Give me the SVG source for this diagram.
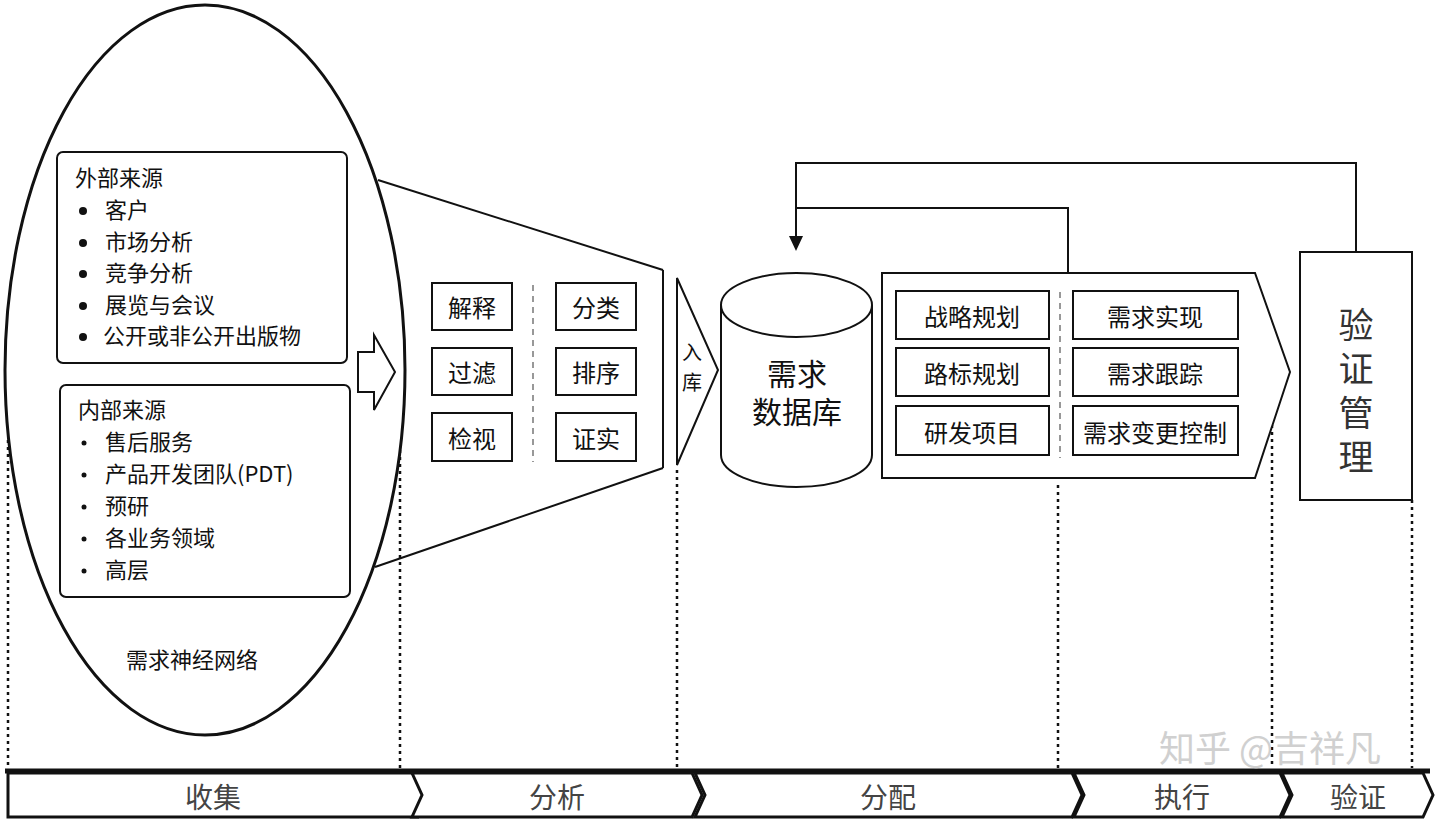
<svg xmlns="http://www.w3.org/2000/svg" width="1440" height="830" viewBox="0 0 1440 830">
<style>
text{font-family:"Noto Sans CJK SC","Liberation Sans",sans-serif;fill:#111}
.s{fill:none;stroke:#111;stroke-width:2}
.b{fill:#fff;stroke:#111;stroke-width:2}
.t22{font-size:22px}
.t24{font-size:24px;text-anchor:middle;dominant-baseline:central}
.dot{fill:none;stroke:#111;stroke-width:2.5;stroke-dasharray:3 4}
.ch{fill:#fff;stroke:#111;stroke-width:3}
.bt{font-size:28px;fill:#444;text-anchor:middle;dominant-baseline:central}
.vt{font-size:35px;fill:#333;text-anchor:middle;dominant-baseline:central}
</style>
<rect width="1440" height="830" fill="#fff"/>
<g id="guides">
<line class="dot" x1="8" y1="440" x2="8" y2="768"/>
<line class="dot" x1="400" y1="450" x2="400" y2="768"/>
<line class="dot" x1="677" y1="470" x2="677" y2="768"/>
<line class="dot" x1="1058" y1="485" x2="1058" y2="768"/>
<line class="dot" x1="1272" y1="425" x2="1272" y2="768"/>
<line class="dot" x1="1412" y1="500" x2="1412" y2="768"/>
</g>
<g id="network">
<ellipse cx="205" cy="370" rx="200" ry="365" fill="#fff" stroke="#111" stroke-width="3"/>
<text x="192" y="668" class="t22" text-anchor="middle">需求神经网络</text>
</g>
<g id="external">
<rect x="57" y="152" width="290" height="211" rx="6" class="b" stroke-width="3"/>
<text x="75" y="186" class="t22">外部来源</text>
<g fill="#111"><circle cx="83" cy="211" r="4"/><circle cx="83" cy="243" r="4"/><circle cx="83" cy="274" r="4"/><circle cx="83" cy="306" r="4"/><circle cx="83" cy="337" r="4"/></g>
<g class="t22"><text x="105" y="218">客户</text><text x="105" y="250">市场分析</text><text x="105" y="281">竞争分析</text><text x="105" y="313">展览与会议</text><text x="103" y="344">公开或非公开出版物</text></g>
</g>
<g id="internal">
<rect x="60" y="385" width="290" height="212" rx="6" class="b" stroke-width="3"/>
<text x="78" y="418" class="t22">内部来源</text>
<g fill="#111"><circle cx="84" cy="443" r="2.5"/><circle cx="84" cy="475" r="2.5"/><circle cx="84" cy="507" r="2.5"/><circle cx="84" cy="539" r="2.5"/><circle cx="84" cy="571" r="2.5"/></g>
<g class="t22"><text x="105" y="450">售后服务</text><text x="105" y="482">产品开发团队(PDT)</text><text x="105" y="514">预研</text><text x="105" y="546">各业务领域</text><text x="105" y="578">高层</text></g>
</g>
<g id="hollow-arrow"><path d="M358,352 L374,352 L374,335 L395,372 L374,410 L374,392 L358,392 Z" class="b" stroke-width="3"/></g>
<g id="funnel">
<line class="s" x1="378" y1="180" x2="663" y2="270"/>
<line class="s" x1="375" y1="567" x2="663" y2="468"/>
<line class="s" x1="663" y1="270" x2="663" y2="468"/>
<line x1="533" y1="285" x2="533" y2="462" stroke="#777" stroke-width="1.5" stroke-dasharray="6 5"/>
<rect x="432" y="283" width="80" height="47" class="b"/><text x="472" y="306" class="t24">解释</text>
<rect x="432" y="348" width="80" height="47" class="b"/><text x="472" y="371" class="t24">过滤</text>
<rect x="432" y="413" width="80" height="48" class="b"/><text x="472" y="437" class="t24">检视</text>
<rect x="556" y="283" width="80" height="47" class="b"/><text x="596" y="306" class="t24">分类</text>
<rect x="556" y="348" width="80" height="47" class="b"/><text x="596" y="371" class="t24">排序</text>
<rect x="556" y="413" width="80" height="48" class="b"/><text x="596" y="437" class="t24">证实</text>
</g>
<g id="ruku"><path d="M677,278 L718,370 L677,465 Z" class="b"/><text x="692" y="351" class="t24" style="font-size:20px">入</text><text x="692" y="381" class="t24" style="font-size:20px">库</text></g>
<g id="database">
<path d="M721,305 L721,455 A75.5,32 0 0 0 872,455 L872,305" class="b"/>
<ellipse cx="796.5" cy="305" rx="75.5" ry="32" class="b"/>
<text x="797" y="372" class="t24" style="font-size:30px">需求</text>
<text x="797" y="410" class="t24" style="font-size:30px">数据库</text>
</g>
<g id="distribution">
<path d="M882,273 L1255,273 L1290,372 L1255,478 L882,478 Z" class="b"/>
<line x1="1060" y1="292" x2="1060" y2="458" stroke="#777" stroke-width="1.5" stroke-dasharray="6 5"/>
<rect x="896" y="291" width="153" height="48" class="b"/><text x="972" y="315" class="t24">战略规划</text>
<rect x="896" y="348" width="153" height="48" class="b"/><text x="972" y="372" class="t24">路标规划</text>
<rect x="896" y="406" width="153" height="49" class="b"/><text x="972" y="431" class="t24">研发项目</text>
<rect x="1073" y="291" width="165" height="48" class="b"/><text x="1155" y="315" class="t24">需求实现</text>
<rect x="1073" y="348" width="165" height="48" class="b"/><text x="1155" y="372" class="t24">需求跟踪</text>
<rect x="1073" y="406" width="165" height="49" class="b"/><text x="1155" y="431" class="t24">需求变更控制</text>
</g>
<g id="verify">
<rect x="1300" y="252" width="112" height="248" class="b"/>
<text x="1356" y="322" class="vt">验</text><text x="1356" y="366" class="vt">证</text><text x="1356" y="410" class="vt">管</text><text x="1356" y="454" class="vt">理</text>
</g>
<g id="connectors">
<path d="M1356,252 L1356,163 L796,163 L796,238" class="s" stroke-width="3"/>
<path d="M1068,273 L1068,208 L796,208" class="s" stroke-width="3"/>
<path d="M789,236 L803,236 L796,251 Z" fill="#111"/>
</g>
<g id="phases">
<line x1="5" y1="771" x2="1430" y2="771" stroke="#111" stroke-width="5"/>
<path d="M8,773 L418,773 L428,795 L418,817 L8,817 Z" class="ch"/>
<path d="M412,773 L692,773 L702,795 L692,817 L412,817 L422,795 Z" class="ch"/>
<path d="M695,773 L1072,773 L1082,795 L1072,817 L695,817 L705,795 Z" class="ch"/>
<path d="M1074,773 L1280,773 L1290,795 L1280,817 L1074,817 L1084,795 Z" class="ch"/>
<path d="M1282,773 L1423,773 L1433,795 L1423,817 L1282,817 L1292,795 Z" class="ch"/>
<text x="213" y="796" class="bt">收集</text>
<text x="557" y="796" class="bt">分析</text>
<text x="888" y="796" class="bt">分配</text>
<text x="1182" y="796" class="bt">执行</text>
<text x="1358" y="796" class="bt">验证</text>
</g>
<text x="1270" y="762" font-size="36" text-anchor="middle" style="fill:#d0d0d0">知乎 @吉祥凡</text>
</svg>
